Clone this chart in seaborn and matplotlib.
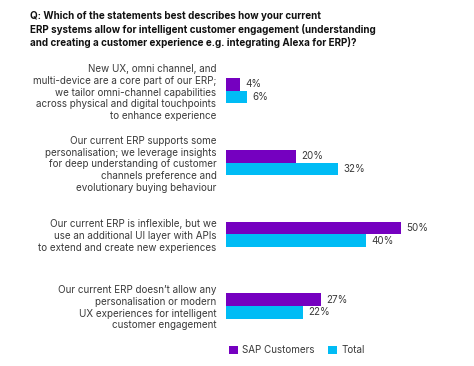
import pandas as pd
import matplotlib.pyplot as plt
import seaborn as sns
from matplotlib.patches import Patch

# statements (y tick labels)
statements = [
    "New UX, omni channel, and\nmulti-device are a core part of our ERP;\nwe tailor omni-channel capabilities\nacross physical and digital touchpoints\nto enhance experience",
    "Our current ERP supports some\npersonalisation; we leverage insights\nfor deep understanding of customer\nchannels preference and\nevolutionary buying behaviour",
    "Our current ERP is inflexible, but we\nuse an additional UI layer with APIs\nto extend and create new experiences",
    "Our current ERP doesn\u2019t allow any\npersonalisation or modern\nUX experiences for intelligent\ncustomer engagement",
]
sap_customers = [4, 20, 50, 27]
total = [6, 32, 40, 22]
groups = ["SAP Customers", "Total"]
colors = ["#7500C0", "#00BCF5"]

title = ("Q: Which of the statements best describes how your current\n"
         "ERP systems allow for intelligent customer engagement (understanding\n"
         "and creating a customer experience e.g. integrating Alexa for ERP)?")

df = pd.DataFrame({
    "statement": statements * 2,
    "value": sap_customers + total,
    "group": [groups[0]] * 4 + [groups[1]] * 4,
})

sns.set_style("white")
plt.rcParams["font.family"] = ["Inter", "DejaVu Sans"]

fig = plt.figure(figsize=(4.74, 3.66), dpi=100)
ax = fig.add_axes([0.477, 0.066, 0.517, 0.784])

sns.barplot(data=df, y="statement", x="value", hue="group", orient="h",
            palette=colors, width=0.35, ax=ax, legend=False, saturation=1,
            linewidth=0)

ax.set_xlim(0, 70)
ax.set_ylim(3.5, -0.5)
ax.set_xlabel("")
ax.set_ylabel("")
ax.set_xticks([])
sns.despine(ax=ax, left=True, bottom=True)
ax.tick_params(axis="y", length=0, pad=7)
for lab in ax.get_yticklabels():
    lab.set_multialignment("right")
    lab.set_fontsize(7.1)
    lab.set_color("#3a3a3a")
    lab.set_linespacing(1.22)

for cont in ax.containers:
    ax.bar_label(cont, fmt="%d%%", padding=4, fontsize=7.1, color="#3a3a3a")

fig.text(0.063, 0.97, title, ha="left", va="top", fontsize=7.1,
         fontweight="bold", color="#111111", linespacing=1.3)

handles = [Patch(facecolor=c, edgecolor="none") for c in colors]
fig.legend(handles, groups, loc="center left", bbox_to_anchor=(0.465, 0.043),
           ncol=2, frameon=False, fontsize=7.1, handlelength=0.9,
           handleheight=0.9, handletextpad=0.4, columnspacing=1.4,
           labelcolor="#3a3a3a")

fig.savefig("out.png", dpi=100)
